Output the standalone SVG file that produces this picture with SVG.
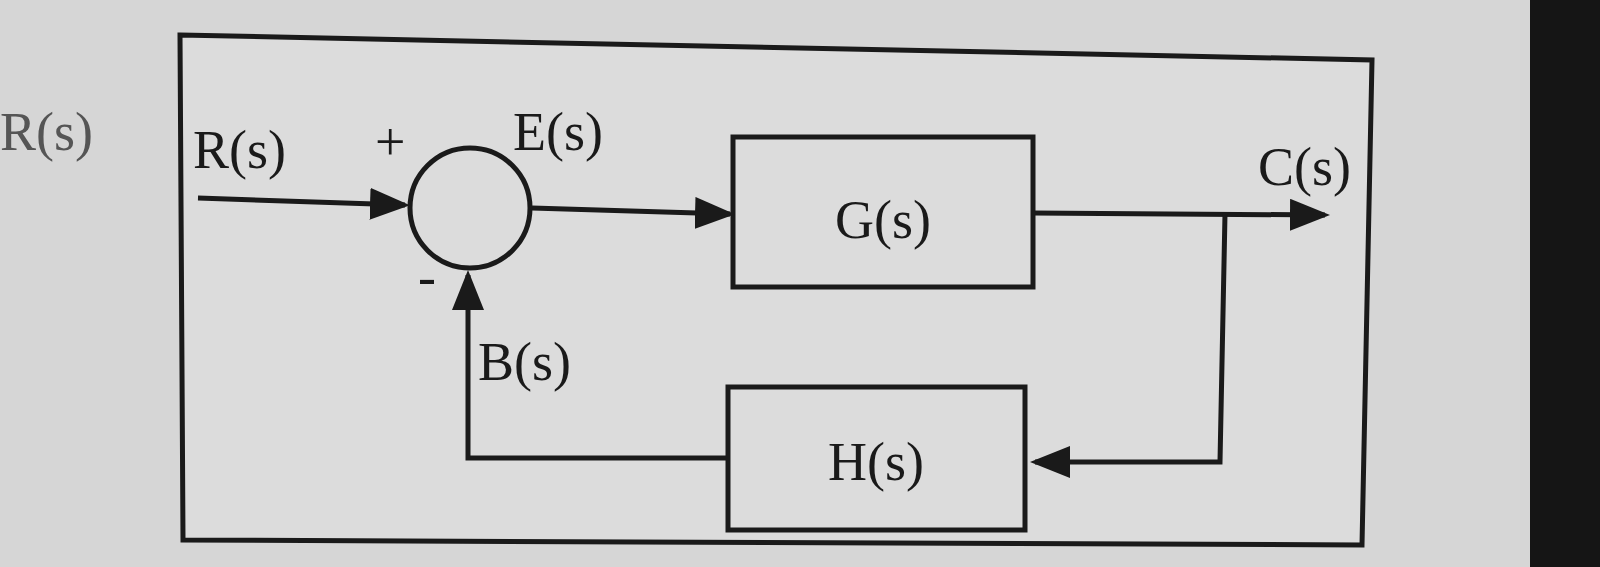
<svg xmlns="http://www.w3.org/2000/svg" width="1600" height="567" viewBox="0 0 1600 567">
<style>
.ln{stroke:#1a1a1a;stroke-width:5;fill:none}
.bx{stroke:#1a1a1a;stroke-width:5;fill:#dcdcdc}
.t{font-family:"Liberation Serif",serif;font-size:54px;fill:#1a1a1a}
</style>
<defs><marker id="a" markerWidth="8" markerHeight="6.4" refX="7" refY="3.2" orient="auto" markerUnits="strokeWidth"><path d="M0,0L8,3.2L0,6.4z" fill="#1a1a1a"/></marker></defs>
<rect width="1600" height="567" fill="#d6d6d6"/>
<rect x="1530" y="0" width="70" height="567" fill="#151515"/>
<text x="0" y="150" class="t" style="fill:#555">R(s)</text>
<polygon points="180,35 1372,60 1362,545 183,540" class="ln" style="fill:#dcdcdc"/>
<g id="connectors">
<line x1="198" y1="198" x2="405" y2="205" class="ln" marker-end="url(#a)"/>
<line x1="532" y1="208" x2="730" y2="214" class="ln" marker-end="url(#a)"/>
<line x1="1033" y1="213" x2="1325" y2="215" class="ln" marker-end="url(#a)"/>
<polyline points="1225,214 1220,462 1035,462" class="ln" marker-end="url(#a)"/>
<polyline points="728,458 468,458 468,275" class="ln" marker-end="url(#a)"/>
</g>
<g id="sum"><circle cx="470" cy="208" r="60" class="bx"/></g>
<g id="G"><rect x="733" y="137" width="300" height="150" class="bx"/><text x="883" y="238" class="t" text-anchor="middle">G(s)</text></g>
<g id="H"><rect x="728" y="387" width="297" height="143" class="bx"/><text x="876" y="480" class="t" text-anchor="middle">H(s)</text></g>
<text x="193" y="168" class="t">R(s)</text>
<text x="375" y="160" class="t">+</text>
<text x="513" y="150" class="t">E(s)</text>
<text x="418" y="295" class="t">-</text>
<text x="478" y="380" class="t">B(s)</text>
<text x="1258" y="185" class="t">C(s)</text>
</svg>
